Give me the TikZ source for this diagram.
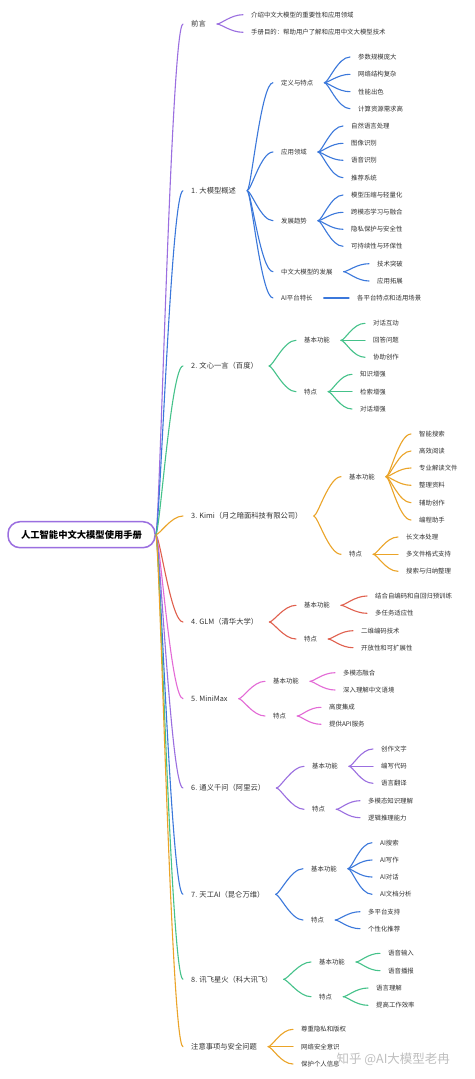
\documentclass[tikz,border=0pt]{standalone}
\usepackage{fontspec}
\setmainfont{Noto Sans CJK SC}
\definecolor{cpurple}{HTML}{9B6FE0}
\definecolor{cblue}{HTML}{3B78DB}
\definecolor{cgreen}{HTML}{45C28A}
\definecolor{corange}{HTML}{EBA428}
\definecolor{cred}{HTML}{E0604E}
\definecolor{cpink}{HTML}{E36AD6}
\definecolor{ctxt}{HTML}{333333}
\begin{document}
\begin{tikzpicture}[
    x=1pt, y=-1pt,
    root/.style={draw=cpurple, line width=1.5pt, rounded corners=12pt, minimum width=147pt, minimum height=26pt, text=black, font=\bfseries\fontsize{9.3}{11}\selectfont},
    lvone/.style={anchor=west, inner xsep=8pt, inner ysep=1pt, text=ctxt, font=\fontsize{7.3}{9}\selectfont},
    leaf/.style={anchor=west, inner xsep=8pt, inner ysep=1pt, text=ctxt, font=\fontsize{6.4}{8}\selectfont},
    link/.style={line width=1.1pt, line cap=round},
    wmark/.style={anchor=west, text=black!25, font=\fontsize{12.5}{14}\selectfont}
]
\useasboundingbox (0,0) rectangle (474,1079);
\fill[white] (0,0) rectangle (474,1079);

% Root
\node[root] (root) at (81.5,534.7) {人工智能中文大模型使用手册};

% Level 1
\node[lvone] (pre) at (183,24) {前言};
\node[lvone] (ov) at (183,190.7) {1. 大模型概述};
\node[lvone] (wx) at (183,366) {2. 文心一言（百度）};
\node[lvone] (kimi) at (183,516) {3. Kimi（月之暗面科技有限公司）};
\node[lvone] (glm) at (183,622) {4. GLM（清华大学）};
\node[lvone] (mm) at (183,698.7) {5. MiniMax};
\node[lvone] (ty) at (183,788) {6. 通义千问（阿里云）};
\node[lvone] (tg) at (183,894.3) {7. 天工AI（昆仑万维）};
\node[lvone] (xf) at (183,979.3) {8. 讯飞星火（科大讯飞）};
\node[lvone] (note) at (183,1046.7) {注意事项与安全问题};

\draw[link, cpurple] (root.east) .. controls +(4,0) and +(-12,0) .. (pre.west);
\draw[link, cblue] (root.east) .. controls +(4,0) and +(-12,0) .. (ov.west);
\draw[link, cgreen] (root.east) .. controls +(4,0) and +(-12,0) .. (wx.west);
\draw[link, corange] (root.east) .. controls +(4,0) and +(-12,0) .. (kimi.west);
\draw[link, cred] (root.east) .. controls +(4,0) and +(-12,0) .. (glm.west);
\draw[link, cpink] (root.east) .. controls +(4,0) and +(-12,0) .. (mm.west);
\draw[link, cpurple] (root.east) .. controls +(4,0) and +(-12,0) .. (ty.west);
\draw[link, cblue] (root.east) .. controls +(4,0) and +(-12,0) .. (tg.west);
\draw[link, cgreen] (root.east) .. controls +(4,0) and +(-12,0) .. (xf.west);
\draw[link, corange] (root.east) .. controls +(4,0) and +(-12,0) .. (note.west);

% 前言
\node[leaf] (pre1) at (243,14.7) {介绍中文大模型的重要性和应用领域};
\node[leaf] (pre2) at (243,32.3) {手册目的：帮助用户了解和应用中文大模型技术};
\draw[link, cpurple] ([xshift=3pt]pre.east) .. controls +(4,0) and +(-12,0) .. (pre1.west);
\draw[link, cpurple] ([xshift=3pt]pre.east) .. controls +(4,0) and +(-12,0) .. (pre2.west);

% 1. 大模型概述
\node[leaf] (ovdef) at (273,82.7) {定义与特点};
\node[leaf] (ovapp) at (273,152) {应用领域};
\node[leaf] (ovtrend) at (273,220.7) {发展趋势};
\node[leaf] (ovcn) at (273,271.7) {中文大模型的发展};
\node[leaf] (ovai) at (273,298) {AI平台特长};
\draw[link, cblue] ([xshift=3pt]ov.east) .. controls +(4,0) and +(-12,0) .. (ovdef.west);
\draw[link, cblue] ([xshift=3pt]ov.east) .. controls +(4,0) and +(-12,0) .. (ovapp.west);
\draw[link, cblue] ([xshift=3pt]ov.east) .. controls +(4,0) and +(-12,0) .. (ovtrend.west);
\draw[link, cblue] ([xshift=3pt]ov.east) .. controls +(4,0) and +(-12,0) .. (ovcn.west);
\draw[link, cblue] ([xshift=3pt]ov.east) .. controls +(4,0) and +(-12,0) .. (ovai.west);

\node[leaf] (ovdef1) at (350,57) {参数规模庞大};
\node[leaf] (ovdef2) at (350,74.3) {网络结构复杂};
\node[leaf] (ovdef3) at (350,91.7) {性能出色};
\node[leaf] (ovdef4) at (350,108.7) {计算资源需求高};
\draw[link, cblue] ([xshift=3pt]ovdef.east) .. controls +(4,0) and +(-12,0) .. (ovdef1.west);
\draw[link, cblue] ([xshift=3pt]ovdef.east) .. controls +(4,0) and +(-12,0) .. (ovdef2.west);
\draw[link, cblue] ([xshift=3pt]ovdef.east) .. controls +(4,0) and +(-12,0) .. (ovdef3.west);
\draw[link, cblue] ([xshift=3pt]ovdef.east) .. controls +(4,0) and +(-12,0) .. (ovdef4.west);

\node[leaf] (ovapp1) at (343,126) {自然语言处理};
\node[leaf] (ovapp2) at (343,143.3) {图像识别};
\node[leaf] (ovapp3) at (343,160.3) {语音识别};
\node[leaf] (ovapp4) at (343,177.7) {推荐系统};
\draw[link, cblue] ([xshift=3pt]ovapp.east) .. controls +(4,0) and +(-12,0) .. (ovapp1.west);
\draw[link, cblue] ([xshift=3pt]ovapp.east) .. controls +(4,0) and +(-12,0) .. (ovapp2.west);
\draw[link, cblue] ([xshift=3pt]ovapp.east) .. controls +(4,0) and +(-12,0) .. (ovapp3.west);
\draw[link, cblue] ([xshift=3pt]ovapp.east) .. controls +(4,0) and +(-12,0) .. (ovapp4.west);

\node[leaf] (ovtrend1) at (343,195) {模型压缩与轻量化};
\node[leaf] (ovtrend2) at (343,212.3) {跨模态学习与融合};
\node[leaf] (ovtrend3) at (343,229.3) {隐私保护与安全性};
\node[leaf] (ovtrend4) at (343,246.3) {可持续性与环保性};
\draw[link, cblue] ([xshift=3pt]ovtrend.east) .. controls +(4,0) and +(-12,0) .. (ovtrend1.west);
\draw[link, cblue] ([xshift=3pt]ovtrend.east) .. controls +(4,0) and +(-12,0) .. (ovtrend2.west);
\draw[link, cblue] ([xshift=3pt]ovtrend.east) .. controls +(4,0) and +(-12,0) .. (ovtrend3.west);
\draw[link, cblue] ([xshift=3pt]ovtrend.east) .. controls +(4,0) and +(-12,0) .. (ovtrend4.west);

\node[leaf] (ovcn1) at (369,263.7) {技术突破};
\node[leaf] (ovcn2) at (369,281) {应用拓展};
\draw[link, cblue] ([xshift=3pt]ovcn.east) .. controls +(4,0) and +(-12,0) .. (ovcn1.west);
\draw[link, cblue] ([xshift=3pt]ovcn.east) .. controls +(4,0) and +(-12,0) .. (ovcn2.west);

\node[leaf] (ovai1) at (349,298) {各平台特点和适用场景};
\draw[link, cblue] ([xshift=3pt]ovai.east) -- (ovai1.west);

% 2. 文心一言
\node[leaf] (wxfun) at (296,340.3) {基本功能};
\node[leaf] (wxfeat) at (296,391.7) {特点};
\draw[link, cgreen] ([xshift=3pt]wx.east) .. controls +(4,0) and +(-12,0) .. (wxfun.west);
\draw[link, cgreen] ([xshift=3pt]wx.east) .. controls +(4,0) and +(-12,0) .. (wxfeat.west);

\node[leaf] (wxfun1) at (365,323.3) {对话互动};
\node[leaf] (wxfun2) at (365,340.3) {回答问题};
\node[leaf] (wxfun3) at (365,357.3) {协助创作};
\draw[link, cgreen] ([xshift=3pt]wxfun.east) .. controls +(4,0) and +(-12,0) .. (wxfun1.west);
\draw[link, cgreen] ([xshift=3pt]wxfun.east) .. controls +(4,0) and +(-12,0) .. (wxfun2.west);
\draw[link, cgreen] ([xshift=3pt]wxfun.east) .. controls +(4,0) and +(-12,0) .. (wxfun3.west);

\node[leaf] (wxfeat1) at (352,374.3) {知识增强};
\node[leaf] (wxfeat2) at (352,391.7) {检索增强};
\node[leaf] (wxfeat3) at (352,409) {对话增强};
\draw[link, cgreen] ([xshift=3pt]wxfeat.east) .. controls +(4,0) and +(-12,0) .. (wxfeat1.west);
\draw[link, cgreen] ([xshift=3pt]wxfeat.east) .. controls +(4,0) and +(-12,0) .. (wxfeat2.west);
\draw[link, cgreen] ([xshift=3pt]wxfeat.east) .. controls +(4,0) and +(-12,0) .. (wxfeat3.west);

% 3. Kimi
\node[leaf] (kimifun) at (341,476.7) {基本功能};
\node[leaf] (kimifeat) at (341,554.3) {特点};
\draw[link, corange] ([xshift=3pt]kimi.east) .. controls +(4,0) and +(-12,0) .. (kimifun.west);
\draw[link, corange] ([xshift=3pt]kimi.east) .. controls +(4,0) and +(-12,0) .. (kimifeat.west);

\node[leaf] (kimifun1) at (411,434) {智能搜索};
\node[leaf] (kimifun2) at (411,451) {高效阅读};
\node[leaf] (kimifun3) at (411,468) {专业解读文件};
\node[leaf] (kimifun4) at (411,485.3) {整理资料};
\node[leaf] (kimifun5) at (411,502.7) {辅助创作};
\node[leaf] (kimifun6) at (411,520) {编程助手};
\draw[link, corange] ([xshift=3pt]kimifun.east) .. controls +(4,0) and +(-12,0) .. (kimifun1.west);
\draw[link, corange] ([xshift=3pt]kimifun.east) .. controls +(4,0) and +(-12,0) .. (kimifun2.west);
\draw[link, corange] ([xshift=3pt]kimifun.east) .. controls +(4,0) and +(-12,0) .. (kimifun3.west);
\draw[link, corange] ([xshift=3pt]kimifun.east) .. controls +(4,0) and +(-12,0) .. (kimifun4.west);
\draw[link, corange] ([xshift=3pt]kimifun.east) .. controls +(4,0) and +(-12,0) .. (kimifun5.west);
\draw[link, corange] ([xshift=3pt]kimifun.east) .. controls +(4,0) and +(-12,0) .. (kimifun6.west);

\node[leaf] (kimifeat1) at (398,537) {长文本处理};
\node[leaf] (kimifeat2) at (398,554.3) {多文件格式支持};
\node[leaf] (kimifeat3) at (398,571.3) {搜索与归纳整理};
\draw[link, corange] ([xshift=3pt]kimifeat.east) .. controls +(4,0) and +(-12,0) .. (kimifeat1.west);
\draw[link, corange] ([xshift=3pt]kimifeat.east) .. controls +(4,0) and +(-12,0) .. (kimifeat2.west);
\draw[link, corange] ([xshift=3pt]kimifeat.east) .. controls +(4,0) and +(-12,0) .. (kimifeat3.west);

% 4. GLM
\node[leaf] (glmfun) at (296,605.3) {基本功能};
\node[leaf] (glmfeat) at (296,639) {特点};
\draw[link, cred] ([xshift=3pt]glm.east) .. controls +(4,0) and +(-12,0) .. (glmfun.west);
\draw[link, cred] ([xshift=3pt]glm.east) .. controls +(4,0) and +(-12,0) .. (glmfeat.west);

\node[leaf] (glmfun1) at (367,596) {结合自编码和自回归预训练};
\node[leaf] (glmfun2) at (367,613.3) {多任务适应性};
\draw[link, cred] ([xshift=3pt]glmfun.east) .. controls +(4,0) and +(-12,0) .. (glmfun1.west);
\draw[link, cred] ([xshift=3pt]glmfun.east) .. controls +(4,0) and +(-12,0) .. (glmfun2.west);

\node[leaf] (glmfeat1) at (353,630.7) {二维编码技术};
\node[leaf] (glmfeat2) at (353,647.7) {开放性和可扩展性};
\draw[link, cred] ([xshift=3pt]glmfeat.east) .. controls +(4,0) and +(-12,0) .. (glmfeat1.west);
\draw[link, cred] ([xshift=3pt]glmfeat.east) .. controls +(4,0) and +(-12,0) .. (glmfeat2.west);

% 5. MiniMax
\node[leaf] (mmfun) at (265,681.3) {基本功能};
\node[leaf] (mmfeat) at (265,716) {特点};
\draw[link, cpink] ([xshift=3pt]mm.east) .. controls +(4,0) and +(-12,0) .. (mmfun.west);
\draw[link, cpink] ([xshift=3pt]mm.east) .. controls +(4,0) and +(-12,0) .. (mmfeat.west);

\node[leaf] (mmfun1) at (335,672.7) {多模态融合};
\node[leaf] (mmfun2) at (335,690) {深入理解中文语境};
\draw[link, cpink] ([xshift=3pt]mmfun.east) .. controls +(4,0) and +(-12,0) .. (mmfun1.west);
\draw[link, cpink] ([xshift=3pt]mmfun.east) .. controls +(4,0) and +(-12,0) .. (mmfun2.west);

\node[leaf] (mmfeat1) at (321,707.3) {高度集成};
\node[leaf] (mmfeat2) at (321,724.3) {提供API服务};
\draw[link, cpink] ([xshift=3pt]mmfeat.east) .. controls +(4,0) and +(-12,0) .. (mmfeat1.west);
\draw[link, cpink] ([xshift=3pt]mmfeat.east) .. controls +(4,0) and +(-12,0) .. (mmfeat2.west);

% 6. 通义千问
\node[leaf] (tyfun) at (304,766.3) {基本功能};
\node[leaf] (tyfeat) at (304,809.3) {特点};
\draw[link, cpurple] ([xshift=3pt]ty.east) .. controls +(4,0) and +(-12,0) .. (tyfun.west);
\draw[link, cpurple] ([xshift=3pt]ty.east) .. controls +(4,0) and +(-12,0) .. (tyfeat.west);

\node[leaf] (tyfun1) at (373,749) {创作文字};
\node[leaf] (tyfun2) at (373,766.3) {编写代码};
\node[leaf] (tyfun3) at (373,783.3) {语言翻译};
\draw[link, cpurple] ([xshift=3pt]tyfun.east) .. controls +(4,0) and +(-12,0) .. (tyfun1.west);
\draw[link, cpurple] ([xshift=3pt]tyfun.east) .. controls +(4,0) and +(-12,0) .. (tyfun2.west);
\draw[link, cpurple] ([xshift=3pt]tyfun.east) .. controls +(4,0) and +(-12,0) .. (tyfun3.west);

\node[leaf] (tyfeat1) at (360,800.7) {多模态知识理解};
\node[leaf] (tyfeat2) at (360,817.7) {逻辑推理能力};
\draw[link, cpurple] ([xshift=3pt]tyfeat.east) .. controls +(4,0) and +(-12,0) .. (tyfeat1.west);
\draw[link, cpurple] ([xshift=3pt]tyfeat.east) .. controls +(4,0) and +(-12,0) .. (tyfeat2.west);

% 7. 天工AI
\node[leaf] (tgfun) at (303,868.7) {基本功能};
\node[leaf] (tgfeat) at (303,920) {特点};
\draw[link, cblue] ([xshift=3pt]tg.east) .. controls +(4,0) and +(-12,0) .. (tgfun.west);
\draw[link, cblue] ([xshift=3pt]tg.east) .. controls +(4,0) and +(-12,0) .. (tgfeat.west);

\node[leaf] (tgfun1) at (372,842.7) {AI搜索};
\node[leaf] (tgfun2) at (372,860) {AI写作};
\node[leaf] (tgfun3) at (372,877) {AI对话};
\node[leaf] (tgfun4) at (372,894.3) {AI文档分析};
\draw[link, cblue] ([xshift=3pt]tgfun.east) .. controls +(4,0) and +(-12,0) .. (tgfun1.west);
\draw[link, cblue] ([xshift=3pt]tgfun.east) .. controls +(4,0) and +(-12,0) .. (tgfun2.west);
\draw[link, cblue] ([xshift=3pt]tgfun.east) .. controls +(4,0) and +(-12,0) .. (tgfun3.west);
\draw[link, cblue] ([xshift=3pt]tgfun.east) .. controls +(4,0) and +(-12,0) .. (tgfun4.west);

\node[leaf] (tgfeat1) at (360,911.7) {多平台支持};
\node[leaf] (tgfeat2) at (360,928.7) {个性化推荐};
\draw[link, cblue] ([xshift=3pt]tgfeat.east) .. controls +(4,0) and +(-12,0) .. (tgfeat1.west);
\draw[link, cblue] ([xshift=3pt]tgfeat.east) .. controls +(4,0) and +(-12,0) .. (tgfeat2.west);

% 8. 讯飞星火
\node[leaf] (xffun) at (311,962) {基本功能};
\node[leaf] (xffeat) at (311,996.7) {特点};
\draw[link, cgreen] ([xshift=3pt]xf.east) .. controls +(4,0) and +(-12,0) .. (xffun.west);
\draw[link, cgreen] ([xshift=3pt]xf.east) .. controls +(4,0) and +(-12,0) .. (xffeat.west);

\node[leaf] (xffun1) at (380,953.3) {语音输入};
\node[leaf] (xffun2) at (380,970.7) {语音播报};
\draw[link, cgreen] ([xshift=3pt]xffun.east) .. controls +(4,0) and +(-12,0) .. (xffun1.west);
\draw[link, cgreen] ([xshift=3pt]xffun.east) .. controls +(4,0) and +(-12,0) .. (xffun2.west);

\node[leaf] (xffeat1) at (368,988) {语言理解};
\node[leaf] (xffeat2) at (368,1005.3) {提高工作效率};
\draw[link, cgreen] ([xshift=3pt]xffeat.east) .. controls +(4,0) and +(-12,0) .. (xffeat1.west);
\draw[link, cgreen] ([xshift=3pt]xffeat.east) .. controls +(4,0) and +(-12,0) .. (xffeat2.west);

% 注意事项
\node[leaf] (note1) at (293,1029.3) {尊重隐私和版权};
\node[leaf] (note2) at (293,1046.7) {网络安全意识};
\node[leaf] (note3) at (293,1064) {保护个人信息};
\draw[link, corange] ([xshift=3pt]note.east) .. controls +(4,0) and +(-12,0) .. (note1.west);
\draw[link, corange] ([xshift=3pt]note.east) .. controls +(4,0) and +(-12,0) .. (note2.west);
\draw[link, corange] ([xshift=3pt]note.east) .. controls +(4,0) and +(-12,0) .. (note3.west);

% Watermark
\node[wmark] (wm) at (333,1059) {知乎 @AI大模型老冉};
\end{tikzpicture}
\end{document}
